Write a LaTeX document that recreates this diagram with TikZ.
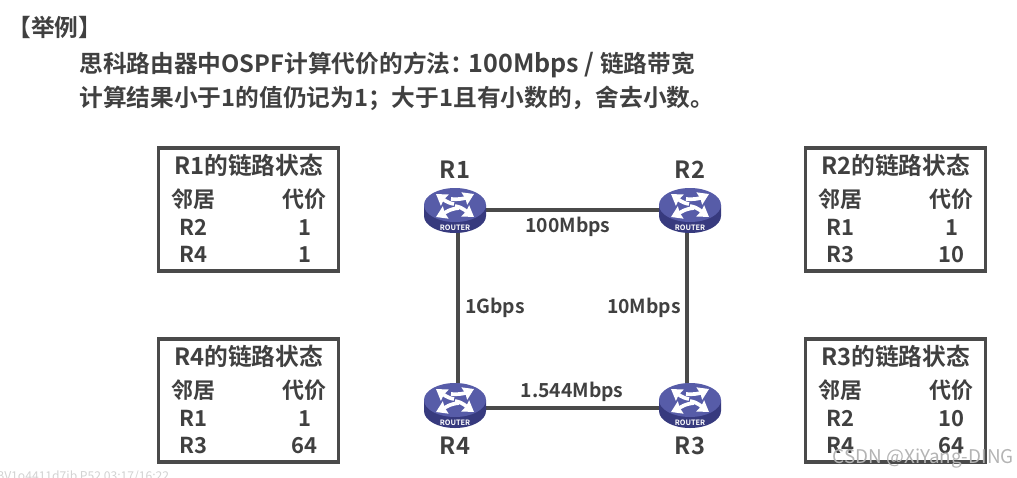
\documentclass[tikz,border=0pt]{standalone}
\usepackage{fontspec}
\usepackage{tikz}
\usetikzlibrary{arrows.meta, positioning, calc, shapes.geometric, backgrounds}
\setmainfont{Noto Sans CJK SC}[BoldFont={* Bold}]
\definecolor{inkgray}{HTML}{404040}
\definecolor{linkgray}{HTML}{4A4A4A}
\definecolor{routertop}{HTML}{575CA8}
\definecolor{routerside}{HTML}{373A7E}
\definecolor{markgray}{HTML}{B4B4B4}

\begin{document}
\begin{tikzpicture}[x=0.02cm, y=-0.02cm,
      txt/.style={font=\fontsize{12.5pt}{14pt}\selectfont\bfseries, text=inkgray, inner sep=0pt},
      rate/.style={font=\fontsize{11pt}{14pt}\selectfont\bfseries, text=inkgray, inner sep=0pt},
      head/.style={font=\fontsize{13.5pt}{16pt}\selectfont\bfseries, text=inkgray, inner sep=0pt},
      cell/.style={font=\fontsize{12.5pt}{14pt}\selectfont\bfseries, text=inkgray, inner sep=0pt},
      statebox/.style={draw=linkgray, line width=2.1pt, minimum width=3.6cm, minimum height=2.46cm, inner sep=0pt},
      link/.style={draw=linkgray, line width=2pt},
      swoosh/.style={white, line width=2.1pt, -{Stealth[length=6pt, width=7.5pt, inset=0.5pt]}},
      router/.pic={
        \fill[routerside] (-31,0) -- (-31,11) arc[start angle=180, end angle=360, x radius=31, y radius=-17]
          -- (31,0) -- cycle;
        \fill[routertop] (0,0) ellipse[x radius=31, y radius=17];
        \draw[swoosh] (-1,-1) to[out=170, in=-35] (-19,-11);
        \draw[swoosh] (-4,-6) to[out=-5, in=205] (19,-11);
        \draw[swoosh] (4,3) to[out=185, in=25] (-19,12);
        \draw[swoosh] (0,1) to[out=-10, in=145] (19,12);
        \node[font=\fontsize{4.2pt}{5pt}\selectfont\bfseries, text=white, inner sep=0pt] at (0,23) {ROUTER};
        \coordinate (-ri) at (3,5);
        \coordinate (-le) at (-3,5);
        \coordinate (-rb) at (3,8);
        \coordinate (-lb) at (-3,8);
      }
    ]
      \useasboundingbox (0,0) rectangle (1017,477);

      % top text
      \node[head, anchor=west] (title) at (7,27) {【举例】};
      \node[head, anchor=west] (rule1) at (79,65) {思科路由器中OSPF计算代价的方法：\hspace{-3.2pt}{\fontsize{14.3pt}{16pt}\selectfont 100Mbps / }链路带宽};
      \node[head, anchor=west] (rule2) at (79,98) {计算结果小于1的值仍记为1；大于1且有小数的，舍去小数。};

      % routers
      \pic (r1) at (455,205) {router};
      \pic (r2) at (690,205) {router};
      \pic (r3) at (690,400) {router};
      \pic (r4) at (455,400) {router};

      \node[head] (r1name) at (455,170) {R1};
      \node[head] (r2name) at (690,170) {R2};
      \node[head] (r3name) at (690,446) {R3};
      \node[head] (r4name) at (455,446) {R4};

      \begin{scope}[on background layer]
        \draw[link] (r1-ri) -- (r2-le);
        \draw[link] (r2-le) -- (r3-lb);
        \draw[link] (r3-lb) -- (r4-rb);
        \draw[link] (r4-rb) -- (r1-ri);
      \end{scope}

      \node[rate] (bw12) at (568,227) {100Mbps};
      \node[rate] (bw23) at (644,308) {10Mbps};
      \node[rate] (bw34) at (572,392) {1.544Mbps};
      \node[rate] (bw41) at (495,308) {1Gbps};

      % state tables
      \foreach \cx/\cy/\me/\na/\ca/\nb/\cb in {
          248.5/209.5/R1/R2/1/R4/1,
          895.5/209.5/R2/R1/1/R3/10,
          895.5/400.5/R3/R2/10/R4/64,
          248.5/400.5/R4/R1/1/R3/64} {
        \node[statebox] (box\me) at (\cx,\cy) {};
        \node[head] (name\me) at (\cx,\cy-44) {\me 的链路状态};
        \node[txt] (nbr\me) at (\cx-55.5,\cy-10) {邻居};
        \node[txt] (cost\me) at (\cx+56,\cy-10) {代价};
        \node[cell] (nbra\me) at (\cx-55.5,\cy+18) {\na};
        \node[cell] (costa\me) at (\cx+56,\cy+18) {\ca};
        \node[cell] (nbrb\me) at (\cx-55.5,\cy+45) {\nb};
        \node[cell] (costb\me) at (\cx+56,\cy+45) {\cb};
      }

      % watermark and player caption
      \node[font=\fontsize{10.75pt}{12pt}\selectfont, text=markgray, inner sep=0pt, anchor=east] (mark) at (1014,459) {CSDN @XiYang-DING};
      \node[font=\fontsize{6.9pt}{8pt}\selectfont, text=markgray!60, inner sep=0pt, anchor=west] (caption) at (-4,477) {BV1o4411d7ib P52 03:17/16:22};
    \end{tikzpicture}
\end{document}
